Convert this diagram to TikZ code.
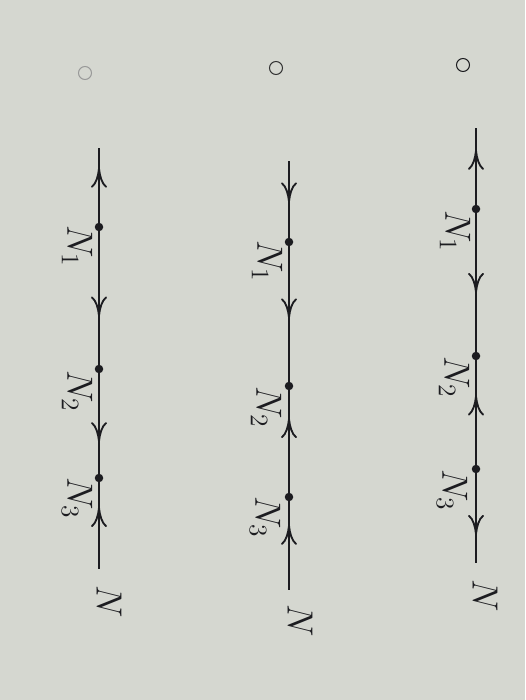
\documentclass[tikz,border=0pt]{standalone}
\usepackage{tikz}
\usetikzlibrary{arrows.meta,decorations.markings}
\definecolor{bg}{RGB}{213,215,208}
\definecolor{ink}{RGB}{28,28,32}

\begin{document}
\begin{tikzpicture}[x=0.02cm, y=-0.02cm,
  axis/.style={line width=1.05pt, draw=ink},
  pt/.style={circle, fill=ink, inner sep=0pt, minimum size=0.17cm},
  lab/.style={rotate=-90, text=ink, font=\fontsize{22}{26}\selectfont},
  radio/.style={circle, draw=#1, line width=0.6pt, minimum size=0.26cm, inner sep=0pt},
  fwd/.style={postaction={decorate}, decoration={markings,
      mark=at position #1 with {\arrow{To[length=0.4cm, width=0.32cm]}}}},
  bwd/.style={postaction={decorate}, decoration={markings,
      mark=at position #1 with {\arrowreversed{To[length=0.4cm, width=0.32cm]}}}}]
\fill[bg] (0,0) rectangle (525,700);
\useasboundingbox (0,0) rectangle (525,700);

\node[radio=gray!80] (oC) at (85,73) {};
\node[radio=gray!40!black] (oB) at (276,68) {};
\node[radio=ink] (oA) at (463,65) {};

\coordinate (tA) at (476,128);
\node[pt] (a1) at (476,209) {};
\node[pt] (a2) at (476,356) {};
\node[pt] (a3) at (476,469) {};
\coordinate (eA) at (476,563);
\draw[axis, bwd=0.27] (tA) -- (a1.center);
\draw[axis, fwd=0.57] (a1.center) -- (a2.center);
\draw[axis, bwd=0.35] (a2.center) -- (a3.center);
\draw[axis, fwd=0.70] (a3.center) -- (eA);
\node[lab] (la1) at (455,231) {$N_{1}$};
\node[lab] (la2) at (454,377) {$N_{2}$};
\node[lab] (la3) at (452,490) {$N_{3}$};
\node[lab] (nA) at (485,596) {$N$};

\coordinate (tB) at (289,161);
\node[pt] (b1) at (289,242) {};
\node[pt] (b2) at (289,386) {};
\node[pt] (b3) at (289,497) {};
\coordinate (eB) at (289,590);
\draw[axis, fwd=0.51] (tB) -- (b1.center);
\draw[axis, fwd=0.53] (b1.center) -- (b2.center);
\draw[axis, bwd=0.29] (b2.center) -- (b3.center);
\draw[axis, bwd=0.30] (b3.center) -- (eB);
\node[lab] (lb1) at (267,261) {$N_{1}$};
\node[lab] (lb2) at (266,407) {$N_{2}$};
\node[lab] (lb3) at (265,517) {$N_{3}$};
\node[lab] (nB) at (300,621) {$N$};

\coordinate (tC) at (99,148);
\node[pt] (c1) at (99,227) {};
\node[pt] (c2) at (99,369) {};
\node[pt] (c3) at (99,478) {};
\coordinate (eC) at (99,569);
\draw[axis, bwd=0.25] (tC) -- (c1.center);
\draw[axis, fwd=0.63] (c1.center) -- (c2.center);
\draw[axis, fwd=0.67] (c2.center) -- (c3.center);
\draw[axis, bwd=0.32] (c3.center) -- (eC);
\node[lab] (lc1) at (77,246) {$N_{1}$};
\node[lab] (lc2) at (77,391) {$N_{2}$};
\node[lab] (lc3) at (77,498) {$N_{3}$};
\node[lab] (nC) at (109,602) {$N$};
\end{tikzpicture}
\end{document}
